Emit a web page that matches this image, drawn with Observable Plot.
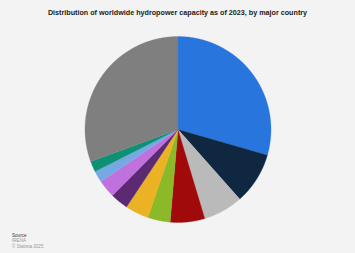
<!DOCTYPE html>
<html>
<head>
<meta charset="utf-8">
<script src="https://cdn.jsdelivr.net/npm/d3@7"></script>
<script src="https://cdn.jsdelivr.net/npm/@observablehq/plot@0.6"></script>
<style>
  html, body { margin: 0; padding: 0; background: #f3f3f3; }
  #wrap { position: relative; width: 355px; height: 253px; background: #f3f3f3; overflow: hidden; font-family: "Liberation Sans", Arial, sans-serif; }
  #title { position: absolute; top: 8px; left: 0; width: 355px; text-align: center; font-weight: bold; font-size: 7.2px; color: #1a1a1a; }
  #chart { position: absolute; top: 34px; left: 0; }
  #caption { position: absolute; left: 12px; top: 233px; font-size: 4.6px; line-height: 5.3px; color: #999; }
  #caption .src { color: #333; }
</style>
</head>
<body>
<div id="wrap">
  <div id="title">Distribution of worldwide hydropower capacity as of 2023, by major country</div>
  <div id="chart"></div>
  <div id="caption"><div class="src">Source</div><div>IRENA</div><div>© Statista 2025</div></div>
</div>
<script>
const countries = ["China", "Brazil", "United States", "Canada", "Russia", "India", "Japan", "Norway", "Turkey", "France", "Rest of the world"];
const shares = [29.5, 9.0, 6.9, 6.0, 3.9, 4.1, 3.1, 3.1, 2.0, 1.9, 30.6];
const colors = ["#2876dd", "#0f2741", "#bababa", "#a10a0a", "#8bb927", "#ebb224", "#5c2a72", "#c171dd", "#76a8e3", "#0d9175", "#7f7f7f"];

const data = countries.map((c, i) => ({country: c, share: shares[i]}));
const pie = d3.pie().value(d => d.share).sort(null)(data);

// Build polygon outlines for each slice (angles from 12 o'clock, clockwise)
const pts = [];
pie.forEach(a => {
  const c = a.data.country;
  pts.push({country: c, x: 0, y: 0});
  const n = Math.max(2, Math.ceil((a.endAngle - a.startAngle) / 0.005));
  for (let k = 0; k <= n; k++) {
    const t = a.startAngle + (a.endAngle - a.startAngle) * k / n;
    pts.push({country: c, x: Math.sin(t), y: Math.cos(t)});
  }
  pts.push({country: c, x: 0, y: 0});
});

const R = 93, W = 355, H = 190, cx = 177.5, cy = 95;
const chart = Plot.plot({
  width: W,
  height: H,
  margin: 0,
  style: {background: "transparent", overflow: "visible"},
  x: {domain: [-cx / R, (W - cx) / R], axis: null},
  y: {domain: [-(H - cy) / R, cy / R], axis: null},
  color: {domain: countries, range: colors},
  marks: [
    Plot.line(pts, {x: "x", y: "y", z: "country", fill: "country", stroke: "country", strokeWidth: 0.3, curve: "linear", title: "country"})
  ]
});
document.getElementById("chart").appendChild(chart);
</script>
</body>
</html>
